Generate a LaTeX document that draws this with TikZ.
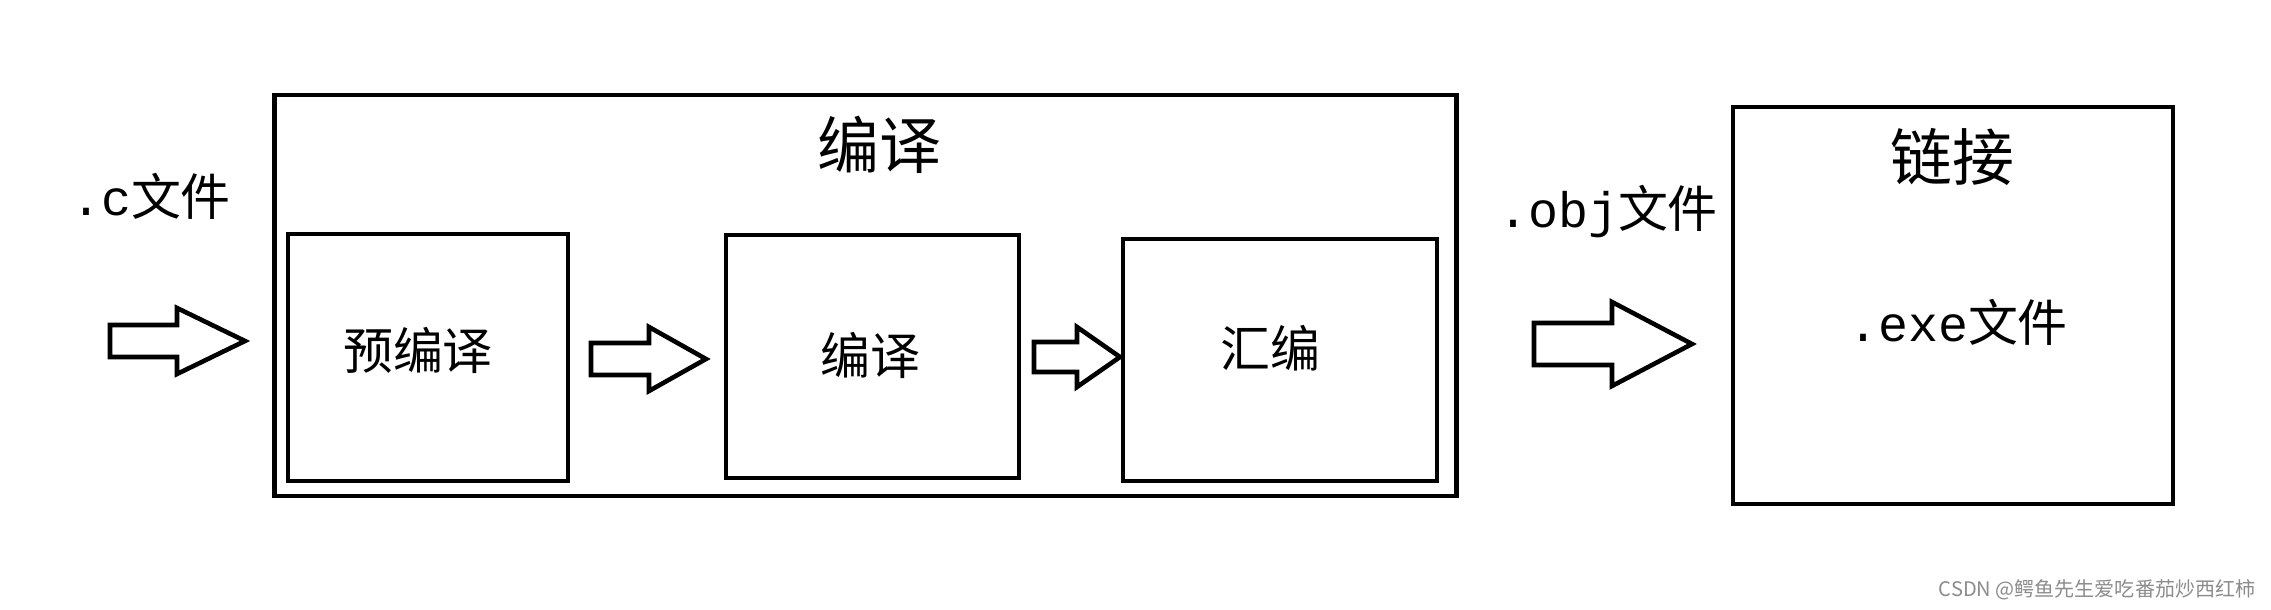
\documentclass[tikz,border=0pt]{standalone}
\usepackage{fontspec}
\setmainfont{Noto Sans CJK SC}
\newfontfamily\latfont{Liberation Mono}
\newcommand\blockarrow[6]{%
  \draw[barrow] ({#1},{#4-#5}) -- ({#2},{#4-#5}) -- ({#2},{#4-#6}) -- ({#3},{#4})
    -- ({#2},{#4+#6}) -- ({#2},{#4+#5}) -- ({#1},{#4+#5}) -- cycle;}
\begin{document}
\begin{tikzpicture}[x=0.01cm,y=-0.01cm,
  box/.style={draw=black,line width=1.3pt,inner sep=0pt},
  barrow/.style={draw=black,fill=white,line width=1.3pt,line join=miter},
  lbl/.style={inner sep=0pt,font=\fontsize{14.2pt}{16pt}\selectfont},
  title/.style={inner sep=0pt,font=\fontsize{17.6pt}{20pt}\selectfont},
  wmark/.style={inner sep=0pt,text=black!45,font=\fontsize{5.7pt}{7pt}\selectfont}]
\useasboundingbox (0,0) rectangle (2271,610);
\fill[white] (0,0) rectangle (2271,610);
% boxes
\node[box,minimum width=11.81cm,minimum height=4.01cm] (outer) at (865.5,295.5) {};
\node[box,minimum width=2.80cm,minimum height=2.47cm] (pre) at (428,357.5) {};
\node[box,minimum width=2.93cm,minimum height=2.43cm] (comp) at (872.5,356.5) {};
\node[box,minimum width=3.14cm,minimum height=2.42cm] (asm) at (1280,360) {};
\node[box,minimum width=4.40cm,minimum height=3.97cm] (link) at (1953,305.5) {};
% texts
\node[lbl] (cfile) at (151,196) {{\latfont .c}文件};
\node[title] (ttl) at (879,145) {编译};
\node[lbl] (tpre) at (418,350) {预编译};
\node[lbl] (tcomp) at (870,355) {编译};
\node[lbl] (tasm) at (1270,348) {汇编};
\node[title] (tlink) at (1952,157) {链接};
\node[lbl] (objfile) at (1608,212) {{\latfont .obj}文件};
\node[lbl] (exefile) at (1958,322) {{\latfont .exe}文件};
% block arrows
\blockarrow{110}{177}{245}{341}{16}{33}
\blockarrow{591}{649}{706}{359}{16}{32}
\blockarrow{1034}{1077}{1120}{357}{15}{30}
\blockarrow{1534}{1612}{1692}{344}{21}{42}
% watermark
\node[wmark,anchor=east] (wm) at (2256,590) {CSDN @鳄鱼先生爱吃番茄炒西红柿};
\end{tikzpicture}
\end{document}
